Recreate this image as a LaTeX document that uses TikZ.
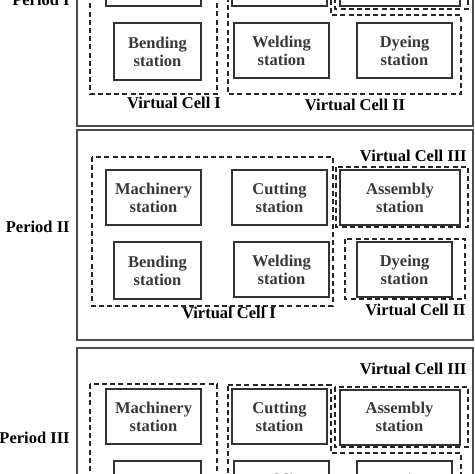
\documentclass[tikz,border=0pt]{standalone}
\usepackage{fontspec}
\setmainfont{Liberation Serif}
\begin{document}
\begin{tikzpicture}[x=0.5pt,y=-0.5pt,
    font=\fontsize{8.25}{9}\selectfont\bfseries,
    station/.style={draw=black!80,line width=1pt,text=black!78,align=center,
      inner sep=0pt,minimum width=47.5pt,minimum height=27.5pt},
    bendbox/.style={station,minimum width=43.5pt,minimum height=28.5pt},
    asmbox/.style={station,minimum width=60pt},
    cell/.style={draw=black!85,line width=0.7pt,dash pattern=on 2.5pt off 1.6pt},
    panel/.style={draw=black!70,line width=0.8pt},
    celllabel/.style={inner sep=0pt}]
  \clip (0,0) rectangle (474,474);

  % Period I
  \begin{scope}[shift={(0,-90)}]
    \draw[panel] (77,0) rectangle (473,216);
    \node[celllabel,anchor=east] (per1) at (70,90) {Period I};
    \node[celllabel,anchor=east] (vc3lab1) at (467,21) {Virtual Cell III};
    \node[station] (mach1) at (153.5,68.5) {Machinery\\station};
    \node[station] (cut1) at (279.5,68.5) {Cutting\\station};
    \node[asmbox] (asm1) at (399.5,69) {Assembly\\station};
    \node[bendbox] (bend1) at (157.5,141.5) {Bending\\station};
    \node[station] (weld1) at (281.5,140.5) {Welding\\station};
    \node[station] (dye1) at (404.5,140.5) {Dyeing\\station};
    \draw[cell] (90,36) rectangle (217,184);
    \draw[cell] (228,37) -- (331,37) -- (331,105) -- (461,105) -- (461,184) -- (228,184) -- cycle;
    \draw[cell] (335,39) rectangle (468,99);
    \node[celllabel] (vc1lab1) at (174,193) {Virtual Cell I};
    \node[celllabel] (vc2lab1) at (355,195) {Virtual Cell II};
  \end{scope}

  % Period II
  \begin{scope}[shift={(0,130)}]
    \draw[panel] (77,0) rectangle (473,210);
    \node[celllabel,anchor=east] (per2) at (70,97) {Period II};
    \node[celllabel,anchor=east] (vc3lab2) at (467,26) {Virtual Cell III};
    \node[station] (mach2) at (153.5,67.5) {Machinery\\station};
    \node[station] (cut2) at (279.5,67.5) {Cutting\\station};
    \node[asmbox] (asm2) at (400,67.5) {Assembly\\station};
    \node[bendbox] (bend2) at (157.5,140.5) {Bending\\station};
    \node[station] (weld2) at (281.5,139.5) {Welding\\station};
    \node[station] (dye2) at (404.5,139.5) {Dyeing\\station};
    \draw[cell] (92,27) rectangle (333,176);
    \draw[cell] (336,37) rectangle (468,97);
    \draw[cell] (345,109) rectangle (465,169);
    \node[celllabel] (vc1lab2) at (229,183) {Virtual Cell I};
    \node[celllabel,anchor=east] (vc2lab2) at (466,180) {Virtual Cell II};
  \end{scope}

  % Period III
  \begin{scope}[shift={(0,348)}]
    \draw[panel] (77,0) rectangle (473,216);
    \node[celllabel,anchor=east] (per3) at (70,90) {Period III};
    \node[celllabel,anchor=east] (vc3lab3) at (467,21) {Virtual Cell III};
    \node[station] (mach3) at (153.5,68.5) {Machinery\\station};
    \node[station] (cut3) at (279.5,68.5) {Cutting\\station};
    \node[asmbox] (asm3) at (399.5,69) {Assembly\\station};
    \node[bendbox] (bend3) at (157.5,141.5) {Bending\\station};
    \node[station] (weld3) at (281.5,140.5) {Welding\\station};
    \node[station] (dye3) at (404.5,140.5) {Dyeing\\station};
    \draw[cell] (90,36) rectangle (217,184);
    \draw[cell] (228,37) -- (331,37) -- (331,105) -- (461,105) -- (461,184) -- (228,184) -- cycle;
    \draw[cell] (335,39) rectangle (468,99);
    \node[celllabel] (vc1lab3) at (174,193) {Virtual Cell I};
    \node[celllabel] (vc2lab3) at (355,195) {Virtual Cell II};
  \end{scope}
\end{tikzpicture}
\end{document}
